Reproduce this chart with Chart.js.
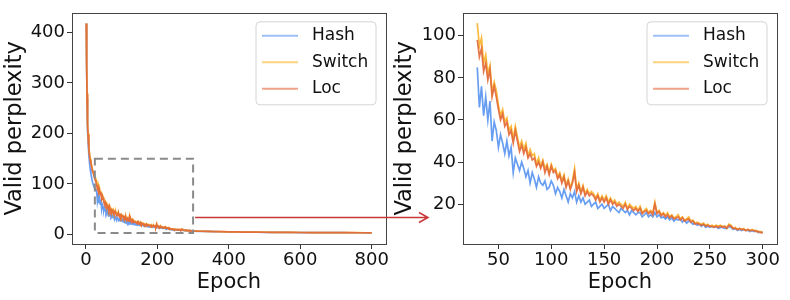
<!DOCTYPE html>
<html lang="en">
<head>
<meta charset="UTF-8">
<title>Valid perplexity</title>
<script src="https://cdn.jsdelivr.net/npm/chart.js"></script>
<style>
  body { margin: 0; background: #fff; }
  .wrap { position: relative; width: 790px; height: 300px; }
  .wrap canvas { position: absolute; left: 0; top: 0; }
</style>
</head>
<body>
<div class="wrap">
  <canvas id="full" width="790" height="300"></canvas>
  <canvas id="zoom" width="790" height="300"></canvas>
</div>
<script>
// series
const seriesNames = ['Hash', 'Switch', 'Loc'];
const seriesColors = ['rgba(88,148,240,0.9)', 'rgba(250,178,40,0.9)', 'rgba(226,104,56,0.9)'];
const legendColors = ['rgba(88,148,240,0.6)', 'rgba(250,178,40,0.6)', 'rgba(226,104,56,0.6)'];

// first epochs (only in the full view)
const earlyEpochs = [1, 2, 3, 4, 5, 6, 8, 10, 12, 14, 16, 18, 20, 22, 24, 26, 28];
const hashEarly   = [418, 330, 270, 232, 205, 185, 160, 142, 130, 120, 112, 105, 100, 96, 92, 90, 87];
const switchEarly = [418, 335, 280, 245, 220, 200, 175, 160, 150, 143, 137, 130, 125, 120, 116, 112, 108];
const locEarly    = [418, 333, 278, 242, 217, 198, 172, 157, 147, 140, 134, 127, 122, 117, 113, 108, 103];

// epochs 30..300, every 2 epochs (zoomed view)
const midEpochs = Array.from({ length: 136 }, (_, i) => 30 + 2 * i);
const hashMid = [
  85, 66, 76, 62, 71,   60, 69, 50, 59, 55,   47, 53, 49, 44, 50,   43, 47, 35, 42, 39,
  36, 40, 37, 33, 36,   30, 35, 32, 28, 33,   30, 29, 31, 27, 28,   31, 29, 25, 28, 26,
  23, 27, 24, 21, 25,   23, 26, 21, 24, 21,   23, 20, 21, 22, 19,   20, 21, 18, 19, 20,
  18, 19, 20, 17, 19,   18, 17, 16, 18, 17,   16, 17, 15, 17, 16,   15, 16, 16, 14, 15,
  16, 14, 15, 14, 16,   14, 15, 13.5, 14, 13,   14, 12.5, 13.5, 12, 13,   12.5, 13, 11.5, 12.5, 11,
  12, 11.5, 10.5, 11, 10,   10.5, 9.5, 10.5, 9, 9.5,   9, 9.5, 9, 9.5, 8.5,   9, 9, 8.5, 8.5, 9.5,
  9, 8, 8.5, 7.5, 8,    7.5, 8, 7.5, 7.5, 7,   7.5, 7, 7.5, 6.5, 7,   6.5
];
const switchMid = [
  106, 95, 99, 87, 91,  82, 86, 73, 78, 74,   67, 62, 65, 59, 61,   55, 57, 51, 57, 52,
  47, 50, 46, 49, 43,   46, 43, 44, 39, 42,   38, 41, 37, 39, 35,   39, 36, 37, 33, 35,
  31, 34, 29, 32, 28,   31, 37, 27, 30, 26,   29, 25, 27, 25, 26,   25, 23, 25, 22, 24,
  22, 24, 21, 23, 21,   22, 20, 21, 20, 19,   21, 18, 20, 19, 18,   19, 17, 19, 16, 17,
  18, 16, 17, 16, 21,   16, 17, 15, 16, 14.5,   16, 14, 15, 13.5, 14,   15, 13, 14, 12.5, 13,
  14, 12, 12.5, 11, 11.5,   11, 10.5, 11, 10, 10.5,   9.5, 10, 9.5, 10, 9.5,   10, 9.5, 9.5, 9, 10.5,
  10, 8.5, 9, 8, 8.5,   8, 8.5, 7.5, 8, 7.5,   8, 7.5, 7.5, 7, 7,   6.5
];
const locMid = [
  98, 90, 94, 83, 87,   79, 84, 71, 76, 71,   65, 60, 63, 57, 59,   53, 55, 49, 55, 50,
  45, 48, 44, 47, 42,   44, 41, 42, 38, 40,   37, 40, 35, 38, 34,   38, 35, 36, 32, 34,
  30, 33, 28, 31, 27,   30, 35, 26, 29, 25,   28, 24, 26, 24, 25,   24, 22, 24, 21, 23,
  21, 23, 20, 22, 20,   21, 19, 20, 19, 18,   20, 17.5, 19, 18, 17,   18, 16.5, 18, 15.5, 16.5,
  17, 15.5, 16.5, 15, 20,   15.5, 16.5, 14.5, 15.5, 14,   15, 13.5, 14.5, 13, 13.5,   14, 12.5, 13.5, 12, 12.5,
  13, 11.5, 12, 10.5, 11,   10.5, 10, 10.5, 9.5, 10,   9.5, 9.5, 9, 9.5, 9,   9.5, 9, 9.5, 8.5, 10,
  9.5, 8.5, 8.5, 8, 8.5,   8, 8, 7.5, 8, 7.5,   7.5, 7.5, 7, 7, 6.5,   6.5
];

// tail (only in the full view)
const lateEpochs = [320, 340, 360, 380, 400, 420, 440, 460, 480, 500, 520, 540, 560, 580, 600, 620, 640, 660, 680, 700, 720, 740, 760, 780, 800];
const hashLate   = [6.2, 5.9, 5.6, 5.3, 5.0, 4.8, 4.6, 4.5, 4.3, 4.2, 4.1, 4.0, 3.9, 3.8, 3.7, 3.6, 3.6, 3.5, 3.5, 3.4, 3.4, 3.3, 3.3, 3.2, 3.2];
const switchLate = [6.4, 6.1, 5.8, 5.5, 5.2, 5.0, 4.8, 4.6, 4.5, 4.4, 4.2, 4.1, 4.0, 3.9, 3.8, 3.8, 3.7, 3.6, 3.6, 3.5, 3.5, 3.4, 3.4, 3.3, 3.3];
const locLate    = [6.3, 6.0, 5.7, 5.4, 5.1, 4.9, 4.7, 4.6, 4.4, 4.3, 4.2, 4.1, 4.0, 3.9, 3.8, 3.7, 3.7, 3.6, 3.5, 3.5, 3.4, 3.4, 3.3, 3.3, 3.2];

const fullXTicks = [0, 200, 400, 600, 800];
const fullYTicks = [0, 100, 200, 300, 400];
const zoomXTicks = [50, 100, 150, 200, 250, 300];
const zoomYTicks = [20, 40, 60, 80, 100];

const zoomBox = { x0: 25, x1: 300, y0: 3, y1: 150 };
const arrowLevel = 35;

const FONT = '"DejaVu Sans", sans-serif';

function pts(xs, ys) {
  return xs.map((x, i) => ({ x: x, y: ys[i] }));
}

function makeDatasets(parts) {
  return seriesNames.map((name, k) => ({
    label: name,
    data: parts[k],
    borderColor: seriesColors[k],
    borderWidth: 1.7,
    pointRadius: 0,
    tension: 0,
    order: 3 - k
  }));
}

function roundRect(ctx, x, y, w, h, r) {
  ctx.beginPath();
  ctx.moveTo(x + r, y);
  ctx.lineTo(x + w - r, y);
  ctx.arcTo(x + w, y, x + w, y + r, r);
  ctx.lineTo(x + w, y + h - r);
  ctx.arcTo(x + w, y + h, x + w - r, y + h, r);
  ctx.lineTo(x + r, y + h);
  ctx.arcTo(x, y + h, x, y + h - r, r);
  ctx.lineTo(x, y + r);
  ctx.arcTo(x, y, x + r, y, r);
  ctx.closePath();
}

const framePlugin = {
  id: 'frameAndLegend',
  afterDraw(chart) {
    const ctx = chart.ctx, a = chart.chartArea;
    ctx.save();
    ctx.strokeStyle = '#444';
    ctx.lineWidth = 1;
    ctx.strokeRect(Math.round(a.left) + 0.5, Math.round(a.top) + 0.5, Math.round(a.right - a.left), Math.round(a.bottom - a.top));

    // legend box
    const w = 120, h = 83;
    const x = a.right - 10 - w, y = a.top + 9;
    roundRect(ctx, x, y, w, h, 4);
    ctx.fillStyle = 'rgba(255,255,255,0.85)';
    ctx.fill();
    ctx.strokeStyle = '#d4d4d4';
    ctx.stroke();
    ctx.font = '17px ' + FONT;
    ctx.textBaseline = 'middle';
    seriesNames.forEach((name, i) => {
      const ry = y + 14 + i * 26.5;
      ctx.strokeStyle = legendColors[i];
      ctx.lineWidth = 2;
      ctx.beginPath();
      ctx.moveTo(x + 6, ry);
      ctx.lineTo(x + 42, ry);
      ctx.stroke();
      ctx.fillStyle = '#111';
      ctx.fillText(name, x + 56, ry);
    });
    ctx.restore();
  }
};

function makeOptions(xr, yr, xTicks, yTicks, pad, yWidth) {
  return {
    responsive: false,
    animation: false,
    devicePixelRatio: 1,
    layout: { padding: pad },
    plugins: { legend: { display: false }, tooltip: { enabled: false } },
    scales: {
      x: {
        type: 'linear', min: xr[0], max: xr[1],
        afterBuildTicks: s => { s.ticks = xTicks.map(v => ({ value: v })); },
        afterFit: s => { s.height = 56; },
        grid: { drawOnChartArea: false, drawTicks: true, tickLength: 5, color: '#333' },
        border: { display: false },
        ticks: { font: { family: FONT, size: 18 }, color: '#111', padding: 1, maxRotation: 0, autoSkip: false },
        title: { display: true, text: 'Epoch', font: { family: FONT, size: 21 }, color: '#111', padding: { top: 0, bottom: 5 } }
      },
      y: {
        type: 'linear', min: yr[0], max: yr[1],
        afterBuildTicks: s => { s.ticks = yTicks.map(v => ({ value: v })); },
        afterFit: s => { s.width = yWidth; },
        grid: { drawOnChartArea: false, drawTicks: true, tickLength: 5, color: '#333' },
        border: { display: false },
        ticks: { font: { family: FONT, size: 18 }, color: '#111', padding: 2, autoSkip: false },
        title: { display: true, text: 'Valid perplexity', font: { family: FONT, size: 22.5 }, color: '#111', padding: { top: 2, bottom: 0 } }
      }
    }
  };
}

// full view: epochs 1..800
const fullParts = [
  pts(earlyEpochs.concat(midEpochs, lateEpochs), hashEarly.concat(hashMid, hashLate)),
  pts(earlyEpochs.concat(midEpochs, lateEpochs), switchEarly.concat(switchMid, switchLate)),
  pts(earlyEpochs.concat(midEpochs, lateEpochs), locEarly.concat(locMid, locLate))
];

const boxPlugin = {
  id: 'zoomBox',
  afterDraw(chart) {
    const ctx = chart.ctx, sx = chart.scales.x, sy = chart.scales.y;
    const x0 = sx.getPixelForValue(zoomBox.x0), x1 = sx.getPixelForValue(zoomBox.x1);
    const y0 = sy.getPixelForValue(zoomBox.y0), y1 = sy.getPixelForValue(zoomBox.y1);
    ctx.save();
    ctx.strokeStyle = '#8a8a8a';
    ctx.lineWidth = 2;
    ctx.setLineDash([8, 5]);
    ctx.strokeRect(x0, y1, x1 - x0, y0 - y1);
    ctx.restore();
  }
};

const fullChart = new Chart(document.getElementById('full').getContext('2d'), {
  type: 'line',
  data: { datasets: makeDatasets(fullParts) },
  options: makeOptions([-39, 840], [-19, 439], fullXTicks, fullYTicks, { left: 0, right: 404, top: 10, bottom: 0 }, 72),
  plugins: [framePlugin, boxPlugin]
});

// zoomed view: epochs 30..300
const zoomParts = [pts(midEpochs, hashMid), pts(midEpochs, switchMid), pts(midEpochs, locMid)];

const arrowPlugin = {
  id: 'arrow',
  afterDraw(chart) {
    const ctx = chart.ctx;
    const sx = fullChart.scales.x.getPixelForValue(zoomBox.x1) + 2;
    const sy = Math.round(fullChart.scales.y.getPixelForValue(arrowLevel)) + 0.5;
    const ex = chart.chartArea.left - 35;
    ctx.save();
    ctx.strokeStyle = '#c8373a';
    ctx.lineWidth = 1.5;
    ctx.beginPath();
    ctx.moveTo(sx, sy);
    ctx.lineTo(ex, sy);
    ctx.moveTo(ex - 9, sy - 5);
    ctx.lineTo(ex, sy);
    ctx.lineTo(ex - 9, sy + 5);
    ctx.stroke();
    ctx.restore();
  }
};

new Chart(document.getElementById('zoom').getContext('2d'), {
  type: 'line',
  data: { datasets: makeDatasets(zoomParts) },
  options: makeOptions([16.5, 313.5], [1.1, 110.9], zoomXTicks, zoomYTicks, { left: 390, right: 13, top: 10, bottom: 0 }, 73),
  plugins: [framePlugin, arrowPlugin]
});
</script>
</body>
</html>
